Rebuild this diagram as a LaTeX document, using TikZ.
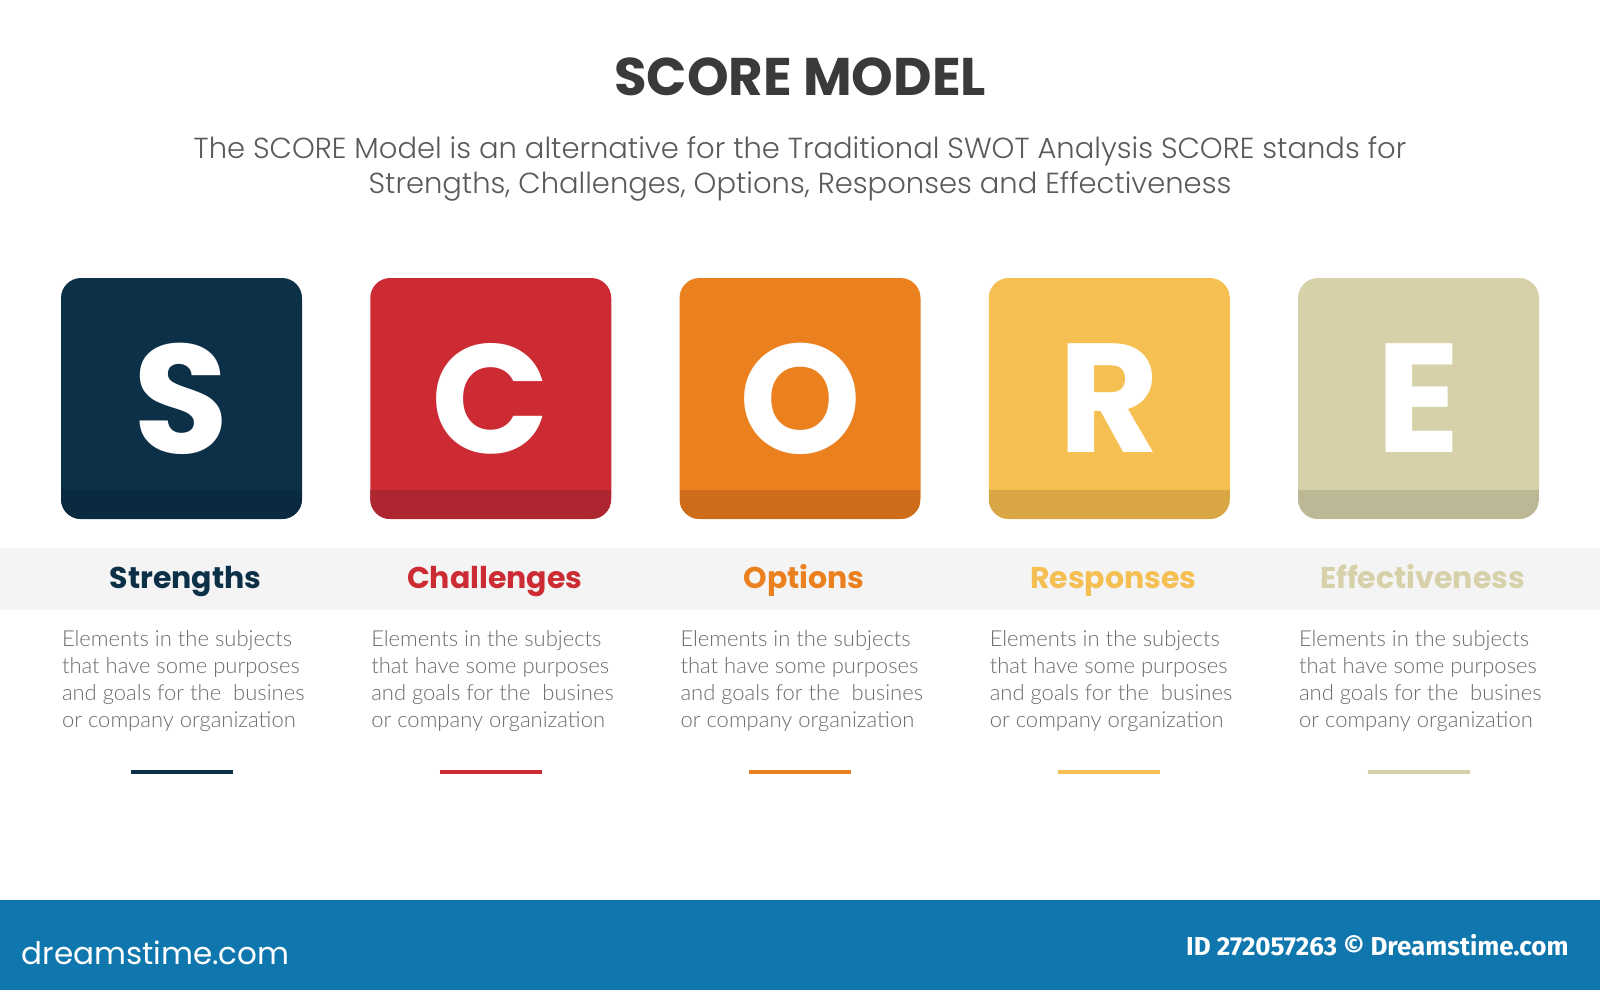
\documentclass[tikz,border=0pt]{standalone}
\usepackage{fontspec}
\setmainfont{Poppins}
\newfontfamily\poplight{Poppins Light}
\newfontfamily\latolight{Lato Light}
\newfontfamily\firafont{Fira Sans}
\usetikzlibrary{positioning}

\definecolor{sNavy}{HTML}{0D3049}
\definecolor{sNavyDark}{HTML}{0A2A40}
\definecolor{cRed}{HTML}{CC2B33}
\definecolor{cRedDark}{HTML}{AD2630}
\definecolor{oOrange}{HTML}{EB801F}
\definecolor{oOrangeDark}{HTML}{CD6D19}
\definecolor{rYellow}{HTML}{F5BF52}
\definecolor{rYellowDark}{HTML}{D9A645}
\definecolor{eBeige}{HTML}{D6D1A9}
\definecolor{eBeigeDark}{HTML}{BCB795}
\definecolor{titlegray}{HTML}{3A3A3A}
\definecolor{subgray}{HTML}{5A5A5A}
\definecolor{bodygray}{HTML}{6B6B6B}
\definecolor{bandgray}{HTML}{F4F4F4}
\definecolor{barblue}{HTML}{0F77AE}

\tikzset{
  letterbox/.style 2 args={fill=#1, rounded corners=20pt,
    minimum width=241pt, minimum height=241pt, inner sep=0pt,
    text=white, font=\fontsize{155}{155}\selectfont\bfseries,
    path picture={\fill[#2, sharp corners] ([yshift=29pt]path picture bounding box.south west)
      rectangle (path picture bounding box.south east);}},
  heading/.style={font=\fontsize{30}{30}\selectfont\bfseries, inner sep=0pt},
  bodytext/.style={font=\latolight\fontsize{22}{27}\selectfont, text=bodygray,
    align=left, inner sep=0pt},
  underline/.style={line width=3.5pt}
}

\begin{document}
\begin{tikzpicture}[x=1pt,y=-1pt]
  \useasboundingbox (0,0) rectangle (1600,990);
  % TITLE
  \node[font=\fontsize{53}{53}\selectfont\bfseries, text=titlegray] (title) at (800,77) {SCORE MODEL};
  \node[font=\poplight\fontsize{29}{35}\selectfont, text=subgray, align=center] (subtitle) at (800,169)
    {The SCORE Model is an alternative for the Traditional SWOT Analysis SCORE stands for\\
     Strengths, Challenges, Options, Responses and Effectiveness};
  % GRAY BAND
  \fill[bandgray] (0,548) rectangle (1600,610);
  % THE FIVE COLUMNS
  \foreach \letter/\name/\main/\dark [count=\i from 0] in
    {S/Strengths/sNavy/sNavyDark, C/Challenges/cRed/cRedDark, O/Options/oOrange/oOrangeDark,
     R/Responses/rYellow/rYellowDark, E/Effectiveness/eBeige/eBeigeDark}
  {
    \node[letterbox={\main}{\dark}] (box\letter) at ({181.5+309.25*\i},398.5) {\letter};
    \node[heading, text=\main, anchor=base] (head\letter) at ([xshift=4pt,yshift=-69pt]box\letter.south) {\name};
    \node[bodytext, anchor=north west] (text\letter) at ([xshift=1pt,yshift=-111pt]box\letter.south west)
      {Elements in the subjects\\that have some purposes\\and goals for the\ \ busines\\or company organization};
    \draw[underline, \main] ([xshift=-51pt,yshift=-253pt]box\letter.south)
      -- ([xshift=51pt,yshift=-253pt]box\letter.south);
  }
  % BOTTOM BAR
  \fill[barblue] (0,900) rectangle (1600,990);
  \node[font=\fontsize{31}{31}\selectfont, text=white, anchor=west] (logo) at (18,953) {dreamstime.com};
  \node[font=\firafont\bfseries\fontsize{26}{26}\selectfont, text=white, anchor=east] (stockid) at (1572,945)
    {ID 272057263 © Dreamstime.com};
\end{tikzpicture}
\end{document}
